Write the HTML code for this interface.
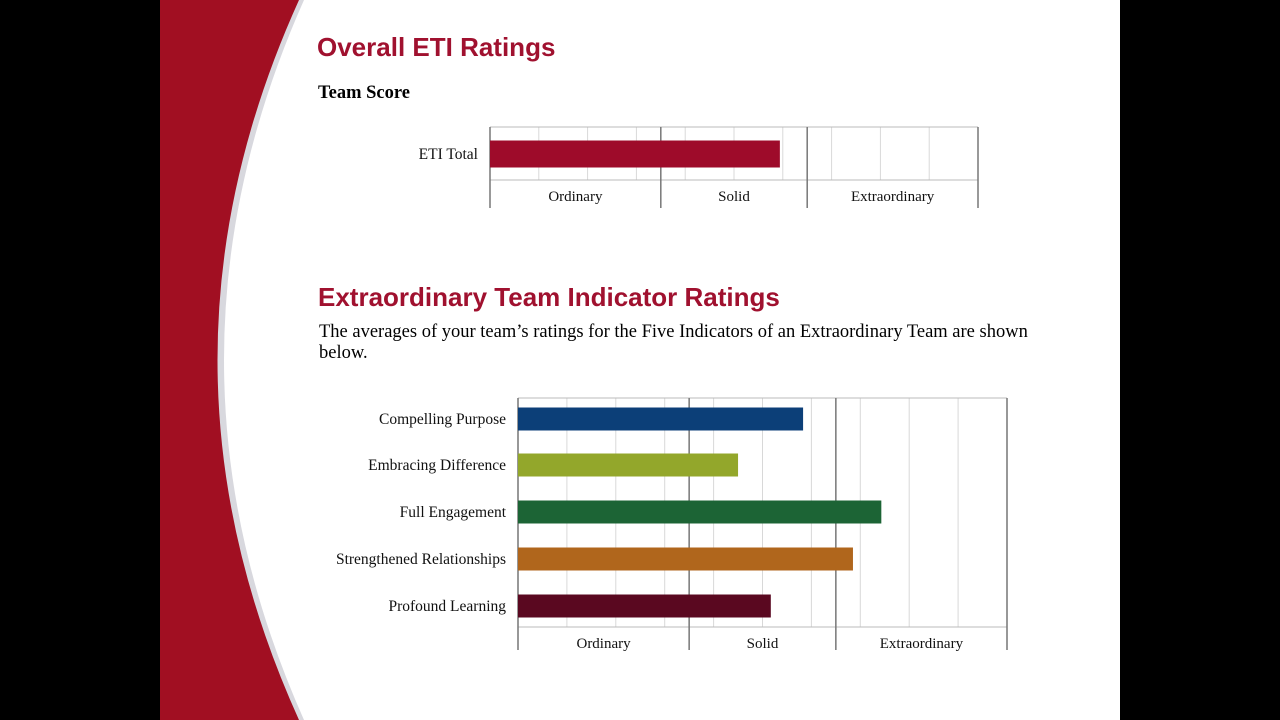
<!DOCTYPE html>
<html><head><meta charset="utf-8"><style>
body{margin:0;width:1280px;height:720px;background:#000;position:relative;overflow:hidden;font-family:"Liberation Serif",serif}
#slide{position:absolute;left:160px;top:0;width:960px;height:720px;background:#fff;overflow:hidden}
.h{position:absolute;font-family:"Liberation Sans",sans-serif;font-weight:bold;color:#a0112f;font-size:26px}
</style></head><body>
<div id="slide">
<svg width="960" height="720" style="position:absolute;left:0;top:0">
<path d="M0,0 L144,0 Q-16,360 144,720 L0,720 Z" fill="#d8d8de"/>
<path d="M0,0 L139,0 Q-24,360 139,720 L0,720 Z" fill="#a10f22"/>
</svg>
<div class="h" style="left:157px;top:32px">Overall ETI Ratings</div>
<div style="position:absolute;left:158px;top:83px;font-weight:bold;font-size:18.5px">Team Score</div>
<div class="h" style="left:158px;top:282px">Extraordinary Team Indicator Ratings</div>
<div style="position:absolute;left:159px;top:322px;font-size:18.5px;line-height:21px;width:730px">The averages of your team’s ratings for the Five Indicators of an Extraordinary Team are shown below.</div>
</div>
<svg id="chart" width="1280" height="720" style="position:absolute;left:0;top:0"></svg>
<script>
const topCats=["ETI Total"];
const topVals=[5.94];
const cats=["Compelling Purpose","Embracing Difference","Full Engagement","Strengthened Relationships","Profound Learning"];
const vals=[5.83,4.5,7.43,6.85,5.17];
const colors=["#0c3f78","#93a72b","#1c6435","#b0661c","#5a0820"];
const bands=["Ordinary","Solid","Extraordinary"];
const bandEdges=[0,3.5,6.5,10];
const NS="http://www.w3.org/2000/svg";
const svg=document.getElementById('chart');
function el(t,a,p){const e=document.createElementNS(NS,t);for(const k in a)e.setAttribute(k,a[k]);(p||svg).appendChild(e);return e;}
function chart(name,x0,x1,y0,y1,yb,catsA,valsA,cols,centers,bh){
  const g=el('g',{});
  
  
  const sx=v=>x0+(x1-x0)*v/10;
  for(let i=0;i<=10;i++){el('line',{x1:sx(i),x2:sx(i),y1:y0,y2:y1,stroke:'#d8d8d8','stroke-width':1},g);}
  el('line',{x1:x0,x2:x1,y1:y0,y2:y0,stroke:'#bbb'},g);
  el('line',{x1:x0,x2:x1,y1:y1,y2:y1,stroke:'#bbb'},g);
  bandEdges.forEach(b=>{const l=el('line',{x1:sx(b),x2:sx(b),y1:y0,y2:yb,stroke:'#777','stroke-width':1.5},g);});
  bands.forEach((b,i)=>{const t=el('text',{x:(sx(bandEdges[i])+sx(bandEdges[i+1]))/2,y:y1+21,'text-anchor':'middle','font-size':15,'font-family':'Liberation Serif,serif',fill:'#111'},g);t.textContent=b;});
  catsA.forEach((c,i)=>{
    const r=el('rect',{x:x0,y:centers[i]-bh/2,width:sx(valsA[i])-x0,height:bh,fill:cols[i]},g);
    
    
    const t=el('text',{x:x0-12,y:centers[i]+5,'text-anchor':'end','font-size':15.5,'font-family':'Liberation Serif,serif',fill:'#111'},g);
    t.textContent=c;
    
    
  });
}
chart('eti-total-chart',490,978,127,180,208,topCats,topVals,["#9e0b2a"],[154],27);
chart('indicator-chart',518,1007,398,627,650,cats,vals,colors,[419,465,512,559,606],23);
</script>
</body></html>
